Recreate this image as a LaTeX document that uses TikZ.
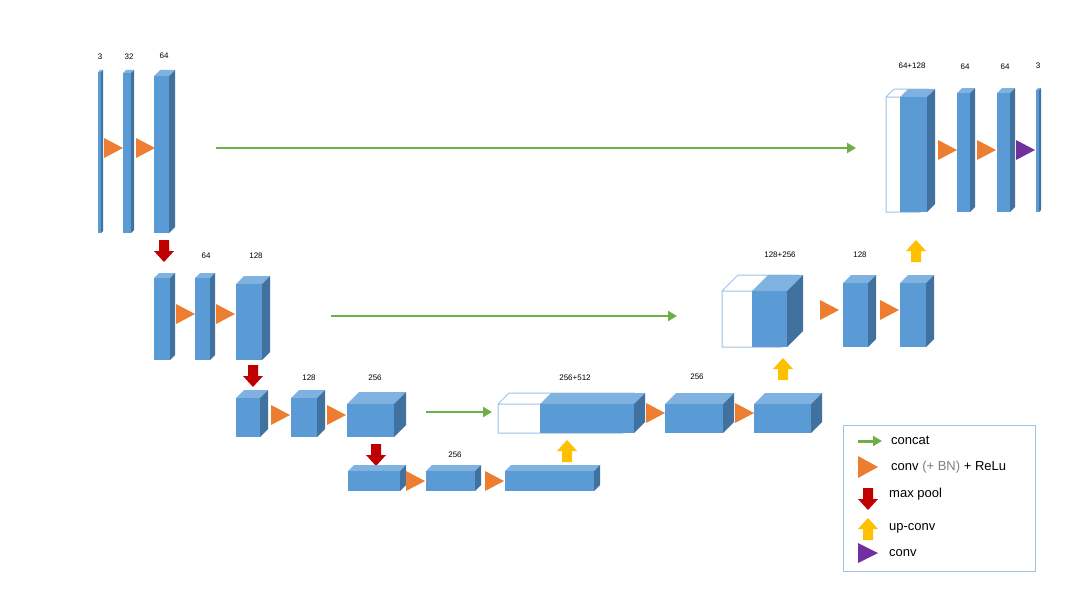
\documentclass[tikz,border=0pt]{standalone}
\usepackage{fontspec}
\setmainfont{Liberation Sans}
\definecolor{bF}{HTML}{5B9BD5}\definecolor{bT}{HTML}{7FB1E1}\definecolor{bS}{HTML}{41729F}
\definecolor{gA}{HTML}{70AD47}\definecolor{oA}{HTML}{ED7D31}\definecolor{rA}{HTML}{C00000}
\definecolor{yA}{HTML}{FFC000}\definecolor{pA}{HTML}{7030A0}\definecolor{lB}{HTML}{9DC3E6}
\newcommand{\blk}[6][bF]{% x y w h d
 \fill[bT] (#2,#3)--++(#6,-#6)--++(#4,0)--(#2+#4,#3)--cycle;
 \fill[bS] (#2+#4,#3)--++(#6,-#6)--++(0,#5)--(#2+#4,#3+#5)--cycle;
 \fill[#1] (#2,#3) rectangle ++(#4,#5);}
\newcommand{\wblk}[5]{%
 \draw[lB,fill=white,line width=1pt] (#1,#2)--++(#5,-#5)--++(#3,0)--++(0,#4)--++(-#5,#5)--++(-#3,0)--cycle (#1,#2)--++(#3,0)--++(#5,-#5) (#1+#3,#2)--++(0,#4);}
\newcommand{\tri}[3][oA]{\fill[#1] (#2,#3-10)--(#2+19,#3)--(#2,#3+10)--cycle;}
\newcommand{\dnA}[3][rA]{\fill[#1] (#2-5,#3)--(#2+5,#3)--(#2+5,#3+11)--(#2+10,#3+11)--(#2,#3+22)--(#2-10,#3+11)--(#2-5,#3+11)--cycle;}
\newcommand{\upA}[3][yA]{\fill[#1] (#2-5,#3)--(#2+5,#3)--(#2+5,#3-11)--(#2+10,#3-11)--(#2,#3-22)--(#2-10,#3-11)--(#2-5,#3-11)--cycle;}
\tikzset{lab/.style={font=\fontsize{8}{9}\selectfont,inner sep=0pt},
 leg/.style={font=\fontsize{13}{14}\selectfont,anchor=west,inner sep=0pt},
 cat/.style={gA,line width=2.5pt,-{Triangle[length=9pt,width=10pt]}}}
\usetikzlibrary{arrows.meta}
\begin{document}
\begin{tikzpicture}[x=1pt,y=-1pt]
\useasboundingbox (0,0) rectangle (1076,594);
% row 1
\blk{98}{72}{3}{161}{2}\blk{123}{73}{8}{160}{3}\blk{154}{76}{15}{157}{6}
\tri{104}{148}\tri{136}{148}
\node[lab] (l1) at (100,57) {3};\node[lab] (l2) at (129,57) {32};\node[lab] (l3) at (164,56) {64};
\coordinate (c1a) at (216,148);\coordinate (c1b) at (856,148);\draw[cat] (c1a)--(c1b);
\wblk{886}{97}{34}{115}{8}\blk{900}{97}{27}{115}{8}
\tri{938}{150}\blk{957}{93}{13}{119}{5}\tri{977}{150}\blk{997}{93}{13}{119}{5}
\tri[pA]{1016}{150}\blk{1036}{90}{3}{122}{2}
\node[lab] (r1) at (912,66) {64+128};\node[lab] (r2) at (965,67) {64};\node[lab] (r3) at (1005,67) {64};\node[lab] (r4) at (1038,66) {3};
\upA{916}{262}
% row 2
\dnA{164}{240}
\blk{154}{278}{16}{82}{5}\tri{176}{314}\blk{195}{278}{15}{82}{5}\tri{216}{314}\blk{236}{284}{26}{76}{8}
\node[lab] (m1) at (206,256) {64};\node[lab] (m2) at (256,256) {128};
\coordinate (c2a) at (331,316);\coordinate (c2b) at (677,316);\draw[cat] (c2a)--(c2b);
\wblk{722}{291}{60}{56}{16}\blk{752}{291}{35}{56}{16}
\tri{820}{310}\blk{843}{283}{25}{64}{8}\tri{880}{310}\blk{900}{283}{26}{64}{8}
\node[lab] (m3) at (780,255) {128+256};\node[lab] (m4) at (860,255) {128};
\upA{783}{380}
% row 3
\dnA{253}{365}
\blk{236}{398}{24}{39}{8}\tri{271}{415}\blk{291}{398}{26}{39}{8}\tri{327}{415}\blk{347}{404}{47}{33}{12}
\node[lab] (n1) at (309,378) {128};\node[lab] (n2) at (375,378) {256};
\coordinate (c3a) at (426,412);\coordinate (c3b) at (492,412);\draw[cat] (c3a)--(c3b);
\wblk{498}{404}{125}{29}{11}\blk{540}{404}{94}{29}{11}
\tri{646}{413}\blk{665}{404}{58}{29}{11}\tri{735}{413}\blk{754}{404}{57}{29}{11}
\node[lab] (n3) at (575,378) {256+512};\node[lab] (n4) at (697,377) {256};
\upA{567}{462}
% row 4
\dnA{376}{444}
\blk{348}{471}{52}{20}{6}\tri{406}{481}\blk{426}{471}{49}{20}{6}\tri{485}{481}\blk{505}{471}{89}{20}{6}
\node[lab] (b1) at (455,455) {256};
% legend
\draw[lB,line width=0.8pt] (843,425) rectangle (1035,571);
\coordinate (g1) at (858,441);\coordinate (g2) at (882,441);\draw[cat,line width=3pt] (g1)--(g2);
\node[leg] (t1) at (891,440) {concat};
\fill[oA] (858,456)--(878,467)--(858,478)--cycle;
\node[leg] (t2) at (891,467) {conv \textcolor{gray}{(+ BN)} + ReLu};
\dnA{868}{488}\node[leg] (t3) at (889,494) {max pool};
\upA{868}{540}\node[leg] (t4) at (889,528) {up-conv};
\fill[pA] (858,543)--(878,553)--(858,563)--cycle;
\node[leg] (t5) at (889,553) {conv};
\end{tikzpicture}
\end{document}
